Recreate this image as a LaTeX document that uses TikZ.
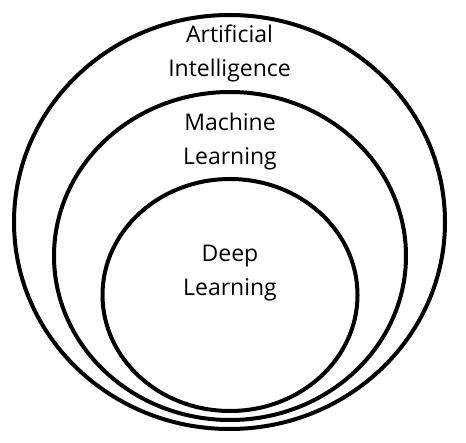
\documentclass[tikz,border=0pt]{standalone}
\usepackage{fontspec}
\setmainfont{Open Sans}
\usetikzlibrary{shapes.geometric, positioning}
\tikzset{
  SetRing/.style  = {draw, ellipse, line width=4pt, inner sep=0pt},
  SetLabel/.style = {align=center, inner sep=0pt, font=\fontsize{23}{34}\selectfont},
}
\begin{document}
\begin{tikzpicture}[x=1pt, y=-1pt]
    \useasboundingbox (0,0) rectangle (466,443);
    \node[SetRing, minimum width=431pt, minimum height=414pt] (ai) at (229.5,222) {};
    \node[SetRing, minimum width=352pt, minimum height=328pt] (ml) at (230,256) {};
    \node[SetRing, minimum width=255pt, minimum height=232pt] (dl) at (230,295) {};
    \node[SetLabel, below=12pt of ai.north] (ailabel) {Artificial\\Intelligence};
    \node[SetLabel, below=23pt of ml.north] (mllabel) {Machine\\Learning};
    \node[SetLabel, below=68pt of dl.north] (dllabel) {Deep\\Learning};
  \end{tikzpicture}
\end{document}
